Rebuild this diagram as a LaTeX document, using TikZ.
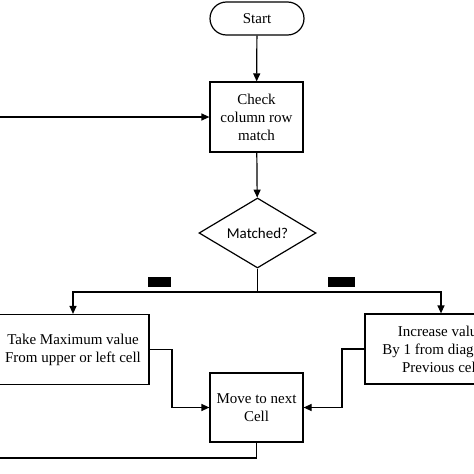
\documentclass[tikz,border=0pt]{standalone}
\usepackage{fontspec}
\setmainfont{Liberation Serif}
\newfontfamily\calib{Carlito}
\usetikzlibrary{shapes.geometric,arrows.meta}
\begin{document}
\begin{tikzpicture}[x=1pt,y=-1pt,
  line width=1.2pt,
  every node/.style={font=\fontsize{15}{18}\selectfont},
  procbox/.style={draw, rectangle, align=center, inner sep=0pt},
  term/.style={draw, rectangle, rounded corners=16.5pt, minimum width=94pt, minimum height=33pt, inner sep=0pt},
  decide/.style={draw, diamond, aspect=1.67, minimum width=117pt, minimum height=70pt, inner sep=0pt, font=\calib\fontsize{15}{18}\selectfont},
  hidelabel/.style={fill=black, text=black, inner sep=0pt, minimum height=10pt, font=\fontsize{9}{9}\selectfont\bfseries},
  arr/.style={-{Triangle[length=8pt,width=7pt]}}
]
\clip (0,0) rectangle (474,474);
\node[term] (start) at (257,18.5) {Start};
\node[procbox, minimum width=93pt, minimum height=70pt] (check) at (256.5,117) {Check\\column row\\match};
\node[decide] (match) at (257.5,233) {Matched?};
\node[procbox, minimum width=152pt, minimum height=70pt] (left) at (73,349.5) {Take Maximum value\\From upper or left cell};
\node[procbox, minimum width=152pt, minimum height=70pt] (right) at (441,349) {Increase value\\By 1 from diagonal\\Previous cell};
\node[procbox, minimum width=93pt, minimum height=69pt] (move) at (256.5,407.5) {Move to next\\Cell};
\coordinate (split) at (257.5,292);
\coordinate (inleft) at (0,117);
\coordinate (outleft) at (0,458);
\node[hidelabel, minimum width=23pt] (nolab) at (159.5,282) {No};
\node[hidelabel, minimum width=27pt] (yeslab) at (341.5,282) {Yes};

\draw[arr] (start) -- (check);
\draw[arr] (inleft) -- (check.west);
\draw[arr] (check) -- (match);
\draw (match.south) -- (split);
\draw[arr] (split) -| (left.north);
\draw[arr] (split) -| (right.north);
\draw[arr] (left.east) -| (172,407.5) -- (move.west);
\draw[arr] (right.west) -| (342,407.5) -- (move.east);
\draw (move.south) |- (outleft);
\end{tikzpicture}
\end{document}
